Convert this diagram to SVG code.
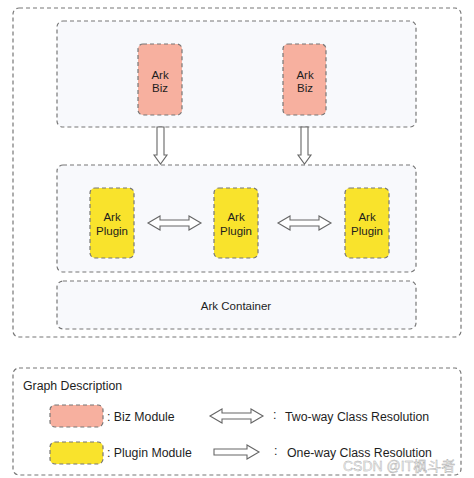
<svg xmlns="http://www.w3.org/2000/svg" width="474" height="478" viewBox="0 0 474 478">
<style>
.box{fill:#f8f9fc;stroke:#777;stroke-width:1.2;stroke-dasharray:4 3}
.outer{fill:#fff;stroke:#777;stroke-width:1.2;stroke-dasharray:4 3}
.biz{fill:#f7b09f;stroke:#777;stroke-width:1.2;stroke-dasharray:4 3}
.plg{fill:#f9e32c;stroke:#777;stroke-width:1.2;stroke-dasharray:4 3}
.arr{fill:#fff;stroke:#666;stroke-width:1.1}
text{font-family:"Liberation Sans",Arial,sans-serif;fill:#1e1e1e}
.lbl{font-size:11.5px;text-anchor:middle}
.leg{font-size:12.3px}
.wm{font-family:"Liberation Sans","Noto Sans CJK SC",sans-serif;font-size:14px;fill:#f4f4f4;stroke:#a8a8a8;stroke-width:0.4}
</style>
<rect class="outer" x="13" y="8" width="448" height="329" rx="6"/>
<g id="biz-layer"><rect class="box" x="57" y="21" width="359" height="106" rx="6"/></g>
<g id="plugin-layer"><rect class="box" x="57" y="165" width="359" height="107" rx="6"/></g>
<g id="container"><rect class="box" x="57" y="281" width="359" height="48" rx="6"/><text class="lbl" x="236" y="310">Ark Container</text></g>
<g id="biz1"><rect class="biz" x="138" y="44" width="44" height="71" rx="5"/><text class="lbl" x="160" y="79">Ark</text><text class="lbl" x="160" y="92">Biz</text></g>
<g id="biz2"><rect class="biz" x="283" y="44" width="43" height="71" rx="5"/><text class="lbl" x="305" y="79">Ark</text><text class="lbl" x="305" y="92">Biz</text></g>
<g id="plugin1"><rect class="plg" x="90" y="188" width="44" height="70" rx="5"/><text class="lbl" x="112" y="221">Ark</text><text class="lbl" x="112" y="235">Plugin</text></g>
<g id="plugin2"><rect class="plg" x="214" y="188" width="44" height="70" rx="5"/><text class="lbl" x="236" y="221">Ark</text><text class="lbl" x="236" y="235">Plugin</text></g>
<g id="plugin3"><rect class="plg" x="345" y="188" width="44" height="70" rx="5"/><text class="lbl" x="367" y="221">Ark</text><text class="lbl" x="367" y="235">Plugin</text></g>
<g id="connectors">
<path class="arr" d="M157 127 V155 H154 L160.5 164 L167 155 H164 V127 Z"/>
<path class="arr" d="M301 127 V155 H298 L304.5 164 L311 155 H308 V127 Z"/>
<path class="arr" d="M148 223 L160 216 V220 H189 V216 L201 223 L189 230 V226 H160 V230 Z"/>
<path class="arr" d="M278 223 L290 216 V220 H319 V216 L331 223 L319 230 V226 H290 V230 Z"/>
</g>
<g id="legend">
<rect class="outer" x="13" y="368" width="448" height="107" rx="6"/>
<text class="leg" x="23" y="390">Graph Description</text>
<rect class="biz" x="50" y="405" width="53" height="22" rx="5"/>
<text class="leg" x="107" y="421">: Biz Module</text>
<rect class="plg" x="50" y="442" width="53" height="22" rx="5"/>
<text class="leg" x="107" y="457">: Plugin Module</text>
<path class="arr" d="M210 416 L222 409 V413 H251 V409 L263 416 L251 423 V419 H222 V423 Z"/>
<text class="leg" x="273" y="419">:</text>
<text class="leg" x="285" y="421">Two-way Class Resolution</text>
<path class="arr" d="M214 449 H247 V445 L259 452 L247 459 V455 H214 Z"/>
<text class="leg" x="274" y="455">:</text>
<text class="leg" x="287" y="457">One-way Class Resolution</text>
<text class="wm" x="343" y="471">CSDN @IT枫斗者</text>
</g>
</svg>
